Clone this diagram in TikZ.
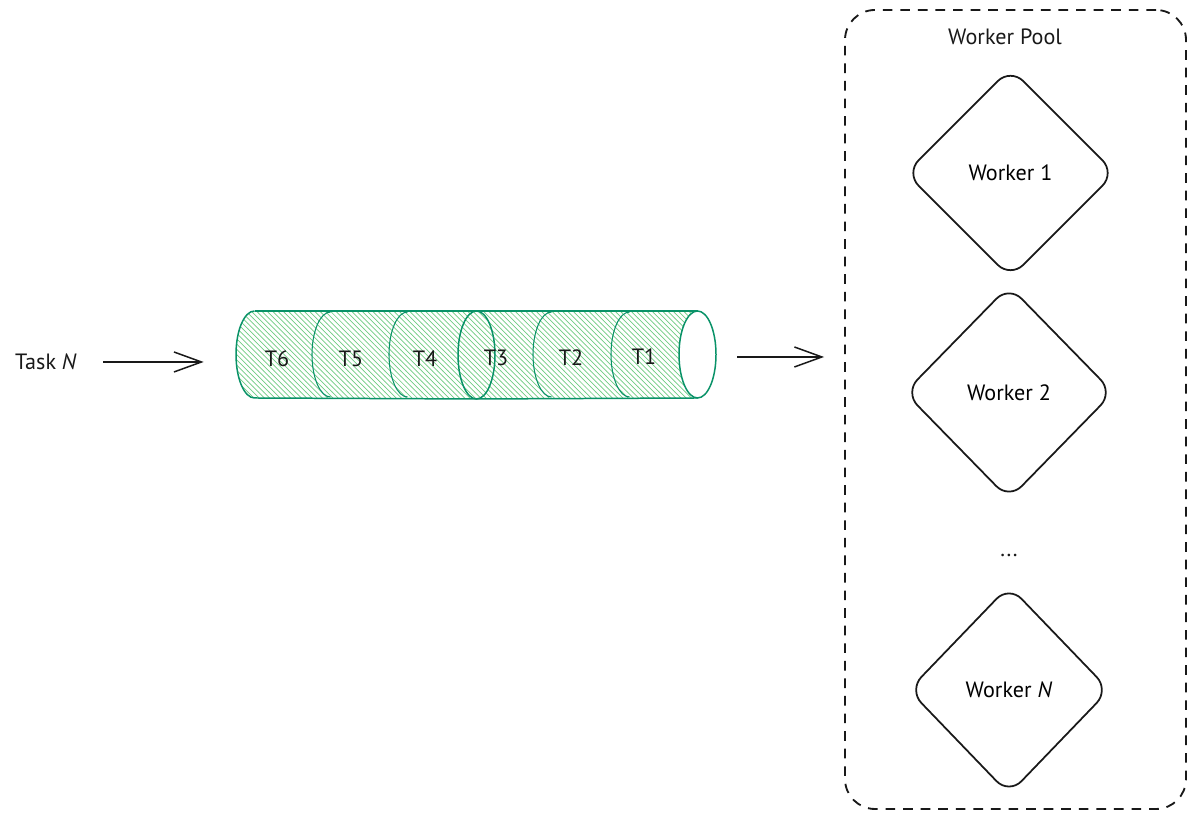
\documentclass[tikz,border=0pt]{standalone}
\usepackage{fontspec}
\setmainfont{PT Sans}
\usepackage{tikz}
\usetikzlibrary{arrows.meta,patterns,shapes.geometric}
\definecolor{tubegreen}{HTML}{099268}
\definecolor{hatchgreen}{HTML}{6FCB82}
\tikzset{
	label/.style={font=\fontsize{12.6}{15}\selectfont,text=black!90,inner sep=0pt},
	flow/.style={-{Straight Barb[length=5.5mm,width=4mm]},line width=0.85pt,black!90},
	worker/.style={draw=black!90,line width=1pt,diamond,rounded corners=0.36cm,inner sep=0pt,font=\fontsize{12.6}{15}\selectfont},
	poolbox/.style={draw=black!90,line width=1.05pt,dash pattern=on 5.5pt off 4.5pt,rounded corners=0.6cm,inner sep=0pt},
	tube/.style={draw=tubegreen,line width=0.85pt},
	seam/.style={draw=tubegreen,line width=0.6pt},
	hatch/.style={pattern=north west lines,pattern color=hatchgreen}
}
\begin{document}
\begin{tikzpicture}
	\useasboundingbox (0,0) rectangle (23.9,16.38);
	% queue
	\fill[hatch] (5.09,10.16) arc[start angle=90,end angle=270,x radius=0.37,y radius=0.87]--(9.53,8.40)--(13.95,8.42)--(13.95,10.16)--cycle;
	\draw[tube] (5.09,10.16) arc[start angle=90,end angle=270,x radius=0.37,y radius=0.87]--(9.53,8.40)--(13.95,8.42);
	\draw[tube] (5.09,10.16)--(13.95,10.16);
	\draw[seam] (6.61,10.14) arc[start angle=90,end angle=270,x radius=0.37,y radius=0.85];
	\draw[seam] (8.15,10.14) arc[start angle=90,end angle=270,x radius=0.37,y radius=0.85];
	\draw[seam] (11.03,10.14) arc[start angle=90,end angle=270,x radius=0.37,y radius=0.85];
	\draw[seam] (12.59,10.14) arc[start angle=90,end angle=270,x radius=0.37,y radius=0.85];
	\draw[tube] (9.53,9.28) ellipse(0.37 and 0.88);
	\filldraw[tube,fill=white] (13.95,9.29) ellipse(0.37 and 0.87);
	\node[label] (t6) at (5.54,9.2) {T6};
	\node[label] (t5) at (7.02,9.2) {T5};
	\node[label] (t4) at (8.5,9.2) {T4};
	\node[label] (t3) at (9.92,9.22) {T3};
	\node[label] (t2) at (11.42,9.22) {T2};
	\node[label] (t1) at (12.88,9.24) {T1};
	\node[minimum width=9.6cm,minimum height=1.74cm,inner sep=0pt] (queue) at (9.52,9.24) {};
	% pool
	\node[poolbox,minimum width=6.82cm,minimum height=15.98cm] (pool) at (20.31,8.19) {};
	\node[label] (pooltitle) at (20.1,15.65) {Worker Pool};
	\node[worker,minimum width=4.2cm,minimum height=4.2cm] (w1) at (20.21,12.92) {Worker 1};
	\node[worker,minimum width=4.18cm,minimum height=4.28cm] (w2) at (20.18,8.53) {Worker 2};
	\node[worker,minimum width=4.02cm,minimum height=4.18cm] (wn) at (20.18,2.58) {Worker \textit{N}};
	\node[label] (dots) at (20.18,5.28) {...};
	% arrows
	\node[label,minimum width=1.44cm] (task) at (0.92,9.14) {Task \textit{N}};
	\draw[flow,shorten <=0.42cm,shorten >=0.64cm] (task.east)--(queue.west|-task.east);
	\draw[flow,shorten <=0.42cm,shorten >=0.4cm] (queue.east)--(pool.west|-queue.east);
\end{tikzpicture}
\end{document}
